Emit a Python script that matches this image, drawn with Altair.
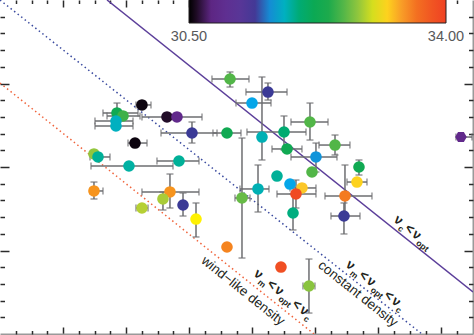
import altair as alt
import pandas as pd

# ---------------- data ----------------
pt_x = [3.647, 2.251, 1.855, 1.950, 1.839, 1.839, 2.648, 2.806, 3.044, 3.599,
        2.141, 1.490, 1.554, 2.838, 2.045, 1.490, 2.695, 2.584, 2.251, 2.902,
        3.108, 3.599, 4.249, 3.996, 4.154, 4.503, 4.551, 4.915, 5.312, 5.010,
        7.309, 5.692, 4.947, 3.837, 4.091, 4.392, 4.598, 4.788, 4.693, 4.646,
        5.660, 5.470, 5.454, 4.455, 4.899]
pt_y = [3.054, 2.743, 2.647, 2.611, 2.551, 2.491, 2.599, 2.599, 2.407, 2.407,
        2.287, 2.156, 2.120, 2.072, 2.012, 1.713, 1.701, 1.617, 1.509, 1.545,
        1.377, 1.042, 2.898, 2.766, 2.359, 2.419, 2.216, 2.539, 2.263, 2.120,
        2.359, 2.000, 1.940, 1.629, 1.737, 1.892, 1.796, 1.749, 1.677, 1.449,
        1.820, 1.653, 1.413, 0.802, 0.575]
pt_val = [32.60, 30.54, 32.25, 32.53, 31.80, 31.80, 30.61, 30.85, 31.48, 32.25,
          30.54, 32.81, 31.90, 31.90, 31.87, 33.44, 33.44, 32.88, 32.92, 31.48,
          33.11, 33.51, 31.48, 31.67, 31.83, 32.01, 32.25, 32.60, 32.60, 31.62,
          30.85, 32.25, 32.60, 32.67, 31.83, 31.90, 31.67, 33.23, 33.90, 31.97,
          33.20, 33.55, 31.48, 33.86, 32.78]
pt_sym = ["c"] * 30 + ["h"] + ["c"] * 14

x_lo = [3.361, 2.156, 1.633, 1.697, 1.506, 1.506, 2.251, None, 2.553, 3.377,
        2.030, None, 1.427, 2.489, 1.443, 1.427, 2.251, None, 2.156, None,
        None, None, 3.900, 3.742, None, 3.916, 4.313, 4.614, 5.058, 4.614,
        7.230, None, None, 3.726, 3.805, None, None, 4.598, 4.392, None,
        5.502, 5.153, 5.248, None, 4.804]
x_hi = [3.948, 2.394, 2.188, 2.220, 2.109, 2.109, 3.203, None, 3.441, 3.821,
        2.331, None, 1.744, 3.155, 2.743, 1.633, 3.155, None, 2.347, None,
        None, None, 4.551, 4.297, None, 4.852, 4.788, 5.201, 5.549, 5.343,
        7.484, None, None, 3.964, 4.265, None, None, 5.010, 5.010, None,
        5.819, 5.898, 5.708, None, 4.994]
y_lo = [2.958, None, 2.563, None, None, None, None, None, 2.287, None,
        None, None, None, None, None, 1.617, 1.509, 1.485, None, 1.413,
        1.162, None, 2.802, None, 2.084, 2.204, None, 2.323, 2.144, 1.940,
        None, 1.904, None, 0.910, 1.461, None, None, None, 1.509, 1.246,
        None, 1.425, 1.198, None, 0.251]
y_hi = [3.138, None, 2.766, None, None, None, None, None, 2.539, None,
        None, None, None, None, None, 1.820, 1.916, 1.701, None, 1.689,
        1.569, None, 3.006, None, 3.078, 2.611, None, 2.766, 2.383, 2.287,
        None, 2.084, None, 2.347, 2.024, None, None, None, 1.844, 1.677,
        None, 2.024, 1.569, None, 0.898]

# model lines (two end points each)
solid_x, solid_y = [1.697, 7.5], [4.0, 0.503]
blue_x, blue_y = [0.0, 6.691], [4.0, 0.0]
red_x, red_y = [0.0, 4.979], [3.006, 0.0]

# colour bar
cb_min, cb_max = 30.5, 34.0
cb_labels = ["30.50", "34.00"]
cmap_t = [0.0, 0.04, 0.09, 0.19, 0.28, 0.30, 0.34, 0.39, 0.45, 0.55, 0.61,
          0.69, 0.745, 0.80, 0.84, 0.90, 1.0]
cmap_c = ["#000000", "#2a0f33", "#62288a", "#5c3697", "#3b3a96", "#2079c5",
          "#00aeef", "#00b1a5", "#00a859", "#1faa4b", "#5cb848", "#b4cf36",
          "#fff200", "#fbaf3f", "#f7941d", "#f26522", "#ef4123"]

# ticks
X_DOMAIN = [0, 7.5]
Y_DOMAIN = [0, 4]
x_major = [1, 2, 3, 4, 5, 6, 7]
x_minor = [round(i * 0.25, 2) for i in range(1, 30) if i % 4]
y_major = [1, 2, 3]
y_minor = [round(i * 0.2, 2) for i in range(1, 20) if i % 5]

# annotations: anchor (data coords) and text
lab_c_x, lab_c_y = 5.676, 0.479
lab_w_x, lab_w_y = 3.853, 0.515
lab_a_x, lab_a_y = 6.231, 1.353   # nu_c < nu_opt
lab_b_x, lab_b_y = 5.470, 0.814   # nu_m < nu_opt < nu_c (blue)
lab_d_x, lab_d_y = 4.011, 0.707   # nu_m < nu_opt < nu_c (red)

# ---------------- chart ----------------
pts = pd.DataFrame({"x": pt_x, "y": pt_y, "v": pt_val, "s": pt_sym,
                    "xlo": x_lo, "xhi": x_hi, "ylo": y_lo, "yhi": y_hi})
hx = pts.dropna(subset=["xlo"])
vy = pts.dropna(subset=["ylo"])

xs = alt.Scale(domain=X_DOMAIN, nice=False, zero=False)
ys = alt.Scale(domain=Y_DOMAIN, nice=False, zero=False)
TICK_C = "#2b2b2b"
ERR_C = "#6d6e71"
ANGLE = 38.5
FONT = "Liberation Sans"


def X(f):
    return alt.X(f, type="quantitative", scale=xs, axis=None)


def Y(f):
    return alt.Y(f, type="quantitative", scale=ys, axis=None)


def tick_axis(orient, values, length, domain=False):
    kw = dict(orient=orient, values=values, labels=False, grid=False,
              domain=domain, ticks=True, tickSize=alt.expr(str(-length)),
              tickColor=TICK_C, tickWidth=1.5)
    if domain:
        kw.update(domainColor="#9a9a9a", domainWidth=2)
    return alt.Axis(**kw)


def carrier(xa, ya):
    return alt.Chart(pts).mark_point(opacity=0).encode(
        x=alt.X("x:Q", scale=xs, axis=xa, title=None),
        y=alt.Y("y:Q", scale=ys, axis=ya, title=None))


layers = [
    carrier(tick_axis("bottom", x_major, 7, True), tick_axis("left", y_major, 9)),
    carrier(tick_axis("bottom", x_minor, 3.5), tick_axis("left", y_minor, 4.5)),
    carrier(tick_axis("top", x_major, 7), tick_axis("right", y_major, 9, True)),
    carrier(tick_axis("top", x_minor, 3.5), tick_axis("right", y_minor, 4.5)),
]


def line(xv, yv, color, dash=None):
    df = pd.DataFrame({"x": xv, "y": yv})
    kw = dict(color=color, strokeWidth=1.5, clip=True)
    if dash:
        kw["strokeDash"] = dash
    return alt.Chart(df).mark_line(**kw).encode(x=X("x"), y=Y("y"))


layers += [
    line(red_x, red_y, "#f0643c", [1.5, 3]),
    line(blue_x, blue_y, "#3a4a9f", [1.5, 3]),
    line(solid_x, solid_y, "#5c3f9a"),
]

# error bars
layers += [
    alt.Chart(hx).mark_rule(color=ERR_C, strokeWidth=1.5).encode(
        x=X("xlo"), x2="xhi", y=Y("y")),
    alt.Chart(hx).mark_tick(orient="vertical", color=ERR_C, size=7, thickness=1.5).encode(
        x=X("xlo"), y=Y("y")),
    alt.Chart(hx).mark_tick(orient="vertical", color=ERR_C, size=7, thickness=1.5).encode(
        x=X("xhi"), y=Y("y")),
    alt.Chart(vy).mark_rule(color=ERR_C, strokeWidth=1.5).encode(
        y=Y("ylo"), y2="yhi", x=X("x")),
    alt.Chart(vy).mark_tick(orient="horizontal", color=ERR_C, size=7, thickness=1.5).encode(
        y=Y("ylo"), x=X("x")),
    alt.Chart(vy).mark_tick(orient="horizontal", color=ERR_C, size=7, thickness=1.5).encode(
        y=Y("yhi"), x=X("x")),
]

hexagon = "M-1,0L-0.5,-0.866L0.5,-0.866L1,0L0.5,0.866L-0.5,0.866Z"
color_scale = alt.Scale(domain=[cb_min + (cb_max - cb_min) * t for t in cmap_t],
                        range=cmap_c, interpolate="rgb")
legend = alt.Legend(orient="none", legendX=189, legendY=-8, direction="horizontal",
                    gradientLength=257, gradientThickness=31, values=[cb_min, cb_max],
                    labelOpacity=0, labelFontSize=1,
                    gradientStrokeColor="#231f20", gradientStrokeWidth=1, padding=0)

layers.append(
    alt.Chart(pts).mark_point(filled=True, opacity=1, size=135, strokeWidth=0).encode(
        x=X("x"), y=Y("y"),
        color=alt.Color("v:Q", scale=color_scale, legend=legend, title=None),
        shape=alt.Shape("s:N", scale=alt.Scale(domain=["c", "h"], range=["circle", hexagon]),
                        legend=None)))

# colour-bar tick labels, placed under the bar ends
cb_df = pd.DataFrame({"v": [cb_min, cb_max], "t": cb_labels})
layers.append(
    alt.Chart(cb_df).mark_text(font=FONT, fontSize=14.5, color="#58595b",
                               align="center", baseline="middle").encode(
        x=alt.X("v:Q", scale=alt.Scale(domain=[cb_min, cb_max], range=[189, 446]), axis=None),
        y=alt.value(37), text="t:N"))


def text_piece(ax, ay, txt, size, dx=0, dy=0, weight="bold", align="left",
               baseline="alphabetic"):
    df = pd.DataFrame({"x": [ax], "y": [ay], "t": [txt]})
    return alt.Chart(df).mark_text(
        angle=ANGLE, align=align, baseline=baseline, dx=dx, dy=dy, fontSize=size,
        font=FONT, fontWeight=weight, color="#231f20").encode(
        x=X("x"), y=Y("y"), text="t:N")


MAIN, SUB, SUBDY = 13.5, 8.5, 4


def nu_label(ax, ay, parts):
    out = []
    dx = 0
    for txt, kind in parts:
        if kind == "m":
            out.append(text_piece(ax, ay, txt, MAIN, dx=dx))
            dx += {"ν": 8, "<": 9.5}[txt]
        else:
            out.append(text_piece(ax, ay, txt, SUB, dx=dx + 0.5, dy=SUBDY))
            dx += {"c": 6, "m": 9, "opt": 14.5}[txt]
    return out


layers += nu_label(lab_a_x, lab_a_y, [("ν", "m"), ("c", "s"), ("<", "m"), ("ν", "m"), ("opt", "s")])
layers += nu_label(lab_b_x, lab_b_y, [("ν", "m"), ("m", "s"), ("<", "m"), ("ν", "m"), ("opt", "s"),
                                      ("<", "m"), ("ν", "m"), ("c", "s")])
layers += nu_label(lab_d_x, lab_d_y, [("ν", "m"), ("m", "s"), ("<", "m"), ("ν", "m"), ("opt", "s"),
                                      ("<", "m"), ("ν", "m"), ("c", "s")])
layers.append(text_piece(lab_c_x, lab_c_y, "constant density", 13.5, weight="normal",
                         align="center", baseline="middle"))
layers.append(text_piece(lab_w_x, lab_w_y, "wind−like density", 13.5, weight="normal",
                         align="center", baseline="middle"))

chart = alt.layer(*layers).resolve_scale(x="independent").resolve_axis(
    x="independent", y="independent").properties(
    width=473, height=334,
    padding={"left": 0, "top": 0, "right": 1, "bottom": 1},
    autosize=alt.AutoSizeParams(type="none"),
    background="white",
).configure_view(strokeWidth=0)

chart.save("out.html", embed_options={"renderer": "svg", "actions": False})
